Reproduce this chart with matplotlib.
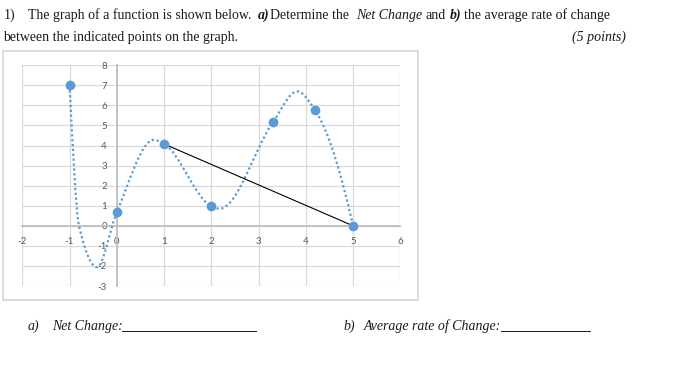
import matplotlib
matplotlib.use('Agg')
import matplotlib.pyplot as plt
from matplotlib.path import Path
from matplotlib.patches import PathPatch, Rectangle

plt.rcParams['axes.unicode_minus'] = False

# points the dotted curve passes through
curve_x = [-1, -0.8, -0.42, 0, 0.78, 1, 2, 2.18, 3.3, 3.82, 4.2, 5]
curve_y = [7, 0.0, -2.06, 0.68, 4.28, 4.08, 0.98, 0.85, 5.15, 6.70, 5.75, 0]

# points drawn with a marker
mark_x = [-1, 0, 1, 2, 3.3, 4.2, 5]
mark_y = [7, 0.68, 4.08, 0.98, 5.15, 5.75, 0]

# the secant line between the two indicated points
seg_x = [1, 5]
seg_y = [4.08, 0]

x_ticks = [-2, -1, 0, 1, 2, 3, 4, 5, 6]
y_ticks = [-3, -2, -1, 0, 1, 2, 3, 4, 5, 6, 7, 8]

W, H = 695, 368
BLUE = '#5B9BD5'
GRID = '#d9d9d9'
TXT = '#1a1a1a'
SERIF = 'Liberation Serif'


def px(x, y):
    # pixel position (from top left) -> figure fraction
    return x / W, 1 - y / H


def slopes(xs, ys):
    # monotone (pchip style) slopes, flat at the bumps
    n = len(xs)
    h = [xs[i + 1] - xs[i] for i in range(n - 1)]
    d = [(ys[i + 1] - ys[i]) / h[i] for i in range(n - 1)]
    m = [0.0] * n
    for i in range(1, n - 1):
        if d[i - 1] * d[i] > 0:
            w1 = 2 * h[i] + h[i - 1]
            w2 = h[i] + 2 * h[i - 1]
            m[i] = (w1 + w2) / (w1 / d[i - 1] + w2 / d[i])
    m[0] = ((2 * h[0] + h[1]) * d[0] - h[0] * d[1]) / (h[0] + h[1])
    m[-1] = ((2 * h[-1] + h[-2]) * d[-1] - h[-1] * d[-2]) / (h[-1] + h[-2])
    return m


def smooth_path(xs, ys):
    m = slopes(xs, ys)
    verts = [(xs[0], ys[0])]
    codes = [Path.MOVETO]
    for i in range(len(xs) - 1):
        dx = (xs[i + 1] - xs[i]) / 3
        verts += [(xs[i] + dx, ys[i] + dx * m[i]),
                  (xs[i + 1] - dx, ys[i + 1] - dx * m[i + 1]),
                  (xs[i + 1], ys[i + 1])]
        codes += [Path.CURVE4] * 3
    return Path(verts, codes)


fig = plt.figure(figsize=(W / 100, H / 100), dpi=100)

# chart frame
l, b = px(3, 300)
fig.patches.append(Rectangle((l, b), 415 / W, 249 / H, transform=fig.transFigure,
                             fill=False, ec=GRID, lw=1.3))

l, b = px(22.3, 286)
ax = fig.add_axes([l, b, 378 / W, 220.7 / H])
ax.set_xlim(-2, 6)
ax.set_ylim(-3, 8)
ax.set_xticks(x_ticks)
ax.set_yticks(y_ticks)
ax.grid(True, color=GRID, lw=0.9)
ax.set_axisbelow(True)

for s in ['top', 'right']:
    ax.spines[s].set_visible(False)
ax.spines['left'].set_position(('data', 0))
ax.spines['bottom'].set_position(('data', 0))
for s in ['left', 'bottom']:
    ax.spines[s].set_color('#bfbfbf')
    ax.spines[s].set_linewidth(1.3)
    ax.spines[s].set_zorder(1.5)

ax.tick_params(axis='both', length=0, labelsize=7, labelcolor='#595959')
ax.tick_params(axis='x', pad=8)
ax.tick_params(axis='y', pad=7)
for lab in ax.get_xticklabels() + ax.get_yticklabels():
    lab.set_fontfamily('Lato')

ax.add_patch(PathPatch(smooth_path(curve_x, curve_y), fill=False, ec=BLUE,
                       lw=1.6, ls=(0, (1, 1.2)), capstyle='butt', zorder=3,
                       clip_on=False))
ax.plot(seg_x, seg_y, color='black', lw=0.8, zorder=4)
ax.plot(mark_x, mark_y, 'o', color=BLUE, ms=6, mec=BLUE, zorder=5, clip_on=False)

# worksheet text
def put(x, y, s, **kw):
    fig.text(*px(x, y), s, family=SERIF, fontsize=10, color=TXT, va='baseline', **kw)


put(3.6, 19, '1)')
put(27.6, 19, 'The graph of a function is shown below.')
put(257.5, 19, 'a)', style='italic', weight='bold')
put(270.4, 19, 'Determine the')
put(356, 19, 'Net Change', style='italic')
put(425, 19, 'and')
put(450, 19, 'b)', style='italic', weight='bold')
put(464, 19, 'the average rate of change')

put(3, 41, 'between the indicated points on the graph.')
put(572, 41, '(5 points)', style='italic')

put(27.6, 330, 'a)', style='italic')
put(52.6, 330, 'Net Change:', style='italic')
put(343, 330, 'b)', style='italic')
put(364, 330, 'Average rate of Change:', style='italic')

for x0, x1 in [(122.5, 256), (501, 590)]:
    (fx0, fy), (fx1, _) = px(x0, 331), px(x1, 331)
    fig.add_artist(plt.Line2D([fx0, fx1], [fy, fy], transform=fig.transFigure,
                              color=TXT, lw=0.7))

fig.savefig('out.png', dpi=100)
